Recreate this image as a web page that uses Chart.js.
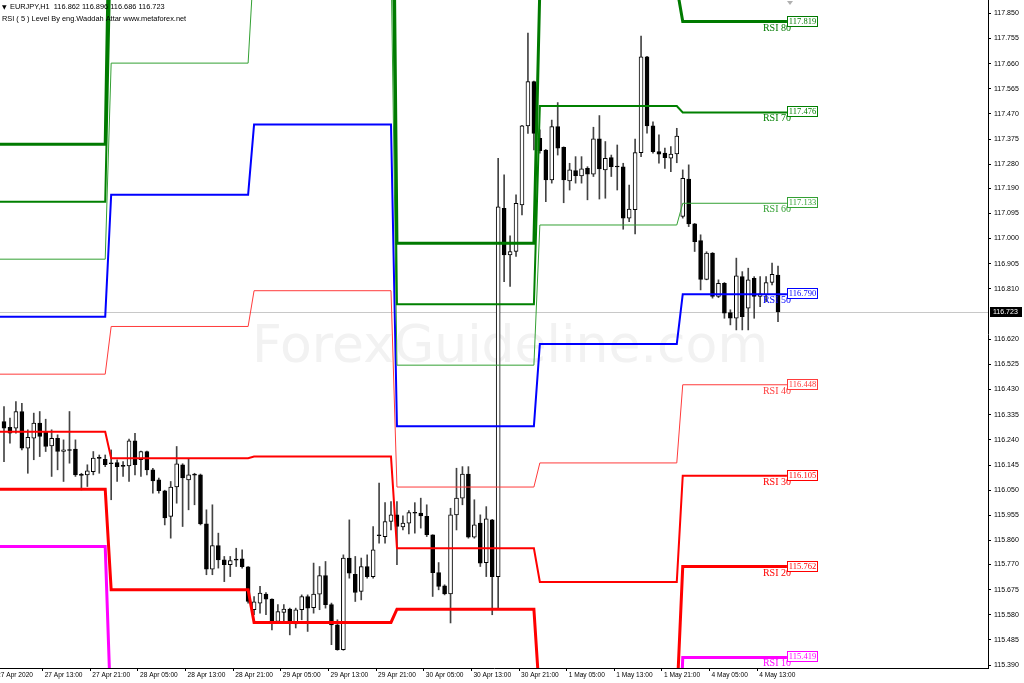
<!DOCTYPE html>
<html lang="en">
<head>
<meta charset="UTF-8">
<title>EURJPY,H1 - RSI Level</title>
<script src="https://cdn.jsdelivr.net/npm/chart.js"></script>
<style>
    body { margin: 0; padding: 0; background: #fff; }
    #wrap { width: 1024px; height: 683px; }
</style>
</head>
<body>
<div id="wrap"><canvas id="chart" width="1024" height="683"></canvas></div>
<script>
// H1 bars, bar 0 = 27 Apr 06:00
const opens = [
    116.309, 116.287, 116.284, 116.347, 116.209, 116.246, 116.303, 116.271, 116.217, 116.246,
    116.196, 116.202, 116.205, 116.108, 116.108, 116.120, 116.171, 116.167, 116.152, 116.154,
    116.142, 116.142, 116.236, 116.165, 116.196, 116.127, 116.089, 116.048, 115.951, 116.062,
    116.146, 116.089, 116.108, 116.108, 115.923, 115.752, 115.841, 115.787, 115.769, 115.787,
    115.791, 115.761, 115.599, 115.624, 115.658, 115.639, 115.555, 115.589, 115.601, 115.545,
    115.599, 115.649, 115.607, 115.658, 115.728, 115.618, 115.542, 115.448, 115.794, 115.733,
    115.668, 115.762, 115.724, 115.879, 115.875, 115.932, 115.957, 115.911, 115.926, 115.964,
    115.964, 115.951, 115.882, 115.739, 115.689, 115.659, 115.957, 116.020, 116.111, 115.873,
    115.926, 115.777, 115.938, 115.724, 117.114, 116.938, 116.951, 117.127, 117.425, 117.592,
    117.378, 117.334, 117.221, 117.422, 117.344, 117.217, 117.256, 117.236, 117.265, 117.243,
    117.376, 117.259, 117.305, 117.271, 117.271, 117.077, 117.109, 117.324, 117.686, 117.425,
    117.328, 117.322, 117.303, 117.319, 117.083, 117.224, 117.055, 116.992, 116.846, 116.945,
    116.781, 116.831, 116.720, 116.699, 116.856, 116.737, 116.850, 116.781, 116.787, 116.834,
    116.862
];
const highs = [
    116.366, 116.322, 116.385, 116.378, 116.278, 116.341, 116.347, 116.318, 116.278, 116.259,
    116.240, 116.347, 116.240, 116.114, 116.146, 116.196, 116.183, 116.183, 116.202, 116.165,
    116.158, 116.243, 116.265, 116.198, 116.198, 116.133, 116.096, 116.050, 116.083, 116.215,
    116.150, 116.168, 116.114, 116.111, 115.976, 115.995, 115.888, 115.800, 115.800, 115.831,
    115.825, 115.762, 115.649, 115.687, 115.664, 115.640, 115.618, 115.618, 115.605, 115.605,
    115.655, 115.655, 115.775, 115.762, 115.781, 115.624, 115.561, 115.806, 115.938, 115.800,
    115.794, 115.806, 115.913, 116.077, 116.003, 116.007, 116.007, 115.953, 115.973, 116.003,
    116.020, 115.995, 115.882, 115.777, 115.693, 115.982, 116.133, 116.139, 116.139, 116.014,
    115.957, 115.988, 115.940, 117.303, 117.240, 117.010, 117.165, 117.427, 117.775, 117.594,
    117.410, 117.336, 117.447, 117.513, 117.346, 117.284, 117.309, 117.309, 117.271, 117.420,
    117.464, 117.366, 117.315, 117.353, 117.284, 117.202, 117.375, 117.764, 117.688, 117.440,
    117.391, 117.341, 117.347, 117.416, 117.259, 117.278, 117.057, 117.014, 116.950, 116.947,
    116.844, 116.834, 116.731, 116.926, 116.875, 116.888, 116.856, 116.856, 116.856, 116.907,
    116.896
];
const lows = [
    116.158, 116.228, 116.265, 116.202, 116.114, 116.165, 116.177, 116.196, 116.102, 116.127,
    116.083, 116.152, 116.102, 116.051, 116.064, 116.108, 116.114, 116.139, 116.014, 116.083,
    116.102, 116.083, 116.108, 116.102, 116.108, 116.039, 116.039, 115.919, 115.869, 116.001,
    115.913, 115.976, 115.995, 115.919, 115.731, 115.731, 115.756, 115.705, 115.724, 115.762,
    115.756, 115.624, 115.580, 115.586, 115.580, 115.523, 115.549, 115.555, 115.504, 115.530,
    115.561, 115.517, 115.586, 115.599, 115.605, 115.467, 115.446, 115.446, 115.718, 115.630,
    115.636, 115.718, 115.718, 115.850, 115.850, 115.900, 115.769, 115.900, 115.885, 115.888,
    115.907, 115.875, 115.649, 115.674, 115.655, 115.549, 115.900, 115.995, 115.869, 115.869,
    115.762, 115.724, 115.580, 115.599, 116.837, 116.819, 116.932, 117.089, 117.397, 117.334,
    117.322, 117.139, 117.209, 117.315, 117.135, 117.183, 117.209, 117.209, 117.146, 117.234,
    117.149, 117.152, 117.234, 117.183, 117.035, 117.064, 117.017, 117.309, 117.398, 117.322,
    117.284, 117.265, 117.252, 117.286, 117.077, 117.045, 116.951, 116.806, 116.844, 116.775,
    116.777, 116.699, 116.674, 116.655, 116.655, 116.655, 116.699, 116.743, 116.762, 116.825,
    116.686
];
const closes = [
    116.284, 116.265, 116.347, 116.209, 116.250, 116.303, 116.253, 116.215, 116.246, 116.196,
    116.202, 116.200, 116.108, 116.106, 116.123, 116.171, 116.170, 116.146, 116.150, 116.139,
    116.140, 116.236, 116.146, 116.196, 116.127, 116.085, 116.048, 115.945, 116.062, 116.150,
    116.096, 116.108, 116.107, 115.923, 115.752, 115.841, 115.787, 115.769, 115.784, 115.786,
    115.761, 115.630, 115.629, 115.662, 115.639, 115.555, 115.592, 115.601, 115.546, 115.599,
    115.649, 115.605, 115.658, 115.728, 115.618, 115.542, 115.448, 115.794, 115.737, 115.664,
    115.762, 115.724, 115.825, 115.878, 115.932, 115.957, 115.913, 115.926, 115.966, 115.963,
    115.953, 115.882, 115.739, 115.687, 115.659, 115.957, 116.020, 116.111, 115.873, 115.919,
    115.775, 115.942, 115.724, 117.120, 116.938, 116.951, 117.133, 117.425, 117.592, 117.397,
    117.332, 117.221, 117.422, 117.341, 117.221, 117.259, 117.237, 117.263, 117.243, 117.376,
    117.263, 117.303, 117.271, 117.270, 117.077, 117.111, 117.324, 117.686, 117.425, 117.328,
    117.318, 117.305, 117.319, 117.387, 117.227, 117.055, 116.988, 116.846, 116.945, 116.781,
    116.831, 116.718, 116.699, 116.859, 116.705, 116.844, 116.781, 116.791, 116.834, 116.865,
    116.723
];

// time axis labels and the bar they belong to
const timeLabels = ['27 Apr 2020', '27 Apr 13:00', '27 Apr 21:00', '28 Apr 05:00', '28 Apr 13:00',
    '28 Apr 21:00', '29 Apr 05:00', '29 Apr 13:00', '29 Apr 21:00', '30 Apr 05:00', '30 Apr 13:00',
    '30 Apr 21:00', '1 May 05:00', '1 May 13:00', '1 May 21:00', '4 May 05:00', '4 May 13:00'];
const timeBars = [-1, 7, 15, 23, 31, 39, 47, 55, 63, 71, 79, 87, 95, 103, 111, 119, 127];

const priceLabels = ['117.850', '117.755', '117.660', '117.565', '117.470', '117.375', '117.280',
    '117.190', '117.095', '117.000', '116.905', '116.810', '116.620', '116.525', '116.430',
    '116.335', '116.240', '116.145', '116.050', '115.955', '115.860', '115.770', '115.675',
    '115.580', '115.485', '115.390'];

// daily levels: first and last bar of each day
const dayFirstBar = [-1, 18, 42, 66, 90, 114];
const dayLastBar = [17, 41, 65, 89, 113, 131.5];

const rsi80 = [117.356, 118.656, 119.309, 116.982, 117.949, 117.819];
const rsi70 = [117.139, 118.159, 118.682, 116.752, 117.500, 117.476];
const rsi60 = [116.922, 117.662, 118.056, 116.522, 117.051, 117.133];
const rsi50 = [116.705, 117.165, 117.430, 116.291, 116.602, 116.790];
const rsi40 = [116.488, 116.668, 116.803, 116.062, 116.153, 116.448];
const rsi30 = [116.271, 116.171, 116.177, 115.831, 115.704, 116.105];
const rsi20 = [116.054, 115.674, 115.551, 115.601, 115.255, 115.762];
const rsi10 = [115.838, 115.177, 114.925, 115.371, 114.806, 115.419];

const levels = [
    { name: 'RSI 80', values: rsi80, color: '#007a00', width: 3 },
    { name: 'RSI 70', values: rsi70, color: '#008000', width: 2 },
    { name: 'RSI 60', values: rsi60, color: '#33a033', width: 1 },
    { name: 'RSI 50', values: rsi50, color: '#0000ff', width: 2 },
    { name: 'RSI 40', values: rsi40, color: '#ff3b3b', width: 1 },
    { name: 'RSI 30', values: rsi30, color: '#ff0000', width: 2 },
    { name: 'RSI 20', values: rsi20, color: '#ff0000', width: 3 },
    { name: 'RSI 10', values: rsi10, color: '#ff00ff', width: 3 }
];

const lastClose = closes[closes.length - 1];

const wickData = highs.map((h, i) => ({ x: i, y: [lows[i], h] }));
const bodyData = opens.map((o, i) => ({ x: i, y: [o, closes[i]] }));

const lineSets = levels.map(l => ({
    type: 'line',
    label: l.name,
    data: dayFirstBar.flatMap((b, d) => [{ x: b, y: l.values[d] }, { x: dayLastBar[d], y: l.values[d] }]),
    borderColor: l.color,
    borderWidth: l.width,
    pointRadius: 0,
    fill: false,
    tension: 0,
    clip: 0,
    order: 0
}));

const overlay = {
    id: 'overlay',
    beforeDatasetsDraw(chart) {
        const { ctx, chartArea: a, scales: { y } } = chart;
        ctx.save();
        ctx.font = '52px "DejaVu Sans"';
        ctx.fillStyle = '#f2f2f2';
        ctx.textAlign = 'center';
        ctx.textBaseline = 'alphabetic';
        ctx.fillText('ForexGuideline.com', 510, 362);
        // current price line
        const py = Math.round(y.getPixelForValue(lastClose)) + 0.5;
        ctx.strokeStyle = '#c8c8c8';
        ctx.lineWidth = 1;
        ctx.beginPath();
        ctx.moveTo(a.left, py);
        ctx.lineTo(a.right, py);
        ctx.stroke();
        ctx.restore();
    },
    afterDatasetsDraw(chart) {
        const { ctx, scales: { x, y } } = chart;
        const x0 = Math.round(x.getPixelForValue(dayLastBar[5]));
        ctx.save();
        levels.forEach(l => {
            const v = l.values[5];
            const ly = Math.round(y.getPixelForValue(v));
            ctx.fillStyle = l.color;
            ctx.font = '10px "Liberation Serif"';
            ctx.textAlign = 'right';
            ctx.textBaseline = 'top';
            ctx.fillText(l.name, x0 + 4, ly + 1);
            ctx.fillStyle = '#fff';
            ctx.fillRect(x0, ly - 5, 30, 10);
            ctx.strokeStyle = l.color;
            ctx.lineWidth = 1;
            ctx.strokeRect(x0 + 0.5, ly - 5.5, 30, 10);
            ctx.fillStyle = l.color;
            ctx.font = '8.5px "Liberation Serif"';
            ctx.textAlign = 'center';
            ctx.textBaseline = 'middle';
            ctx.fillText(v.toFixed(3), x0 + 15.5, ly);
        });
        // small marker at the top of the chart
        ctx.fillStyle = '#b0b0b0';
        ctx.beginPath();
        ctx.moveTo(787, 1);
        ctx.lineTo(793, 1);
        ctx.lineTo(790, 5);
        ctx.closePath();
        ctx.fill();
        ctx.restore();
    },
    afterDraw(chart) {
        const { ctx, chartArea: a, scales: { y } } = chart;
        ctx.save();
        // current price tag
        const py = Math.round(y.getPixelForValue(lastClose));
        ctx.fillStyle = '#000';
        ctx.fillRect(a.right + 2, py - 5, 32, 10);
        ctx.fillStyle = '#fff';
        ctx.font = '7px "Liberation Sans"';
        ctx.textAlign = 'left';
        ctx.textBaseline = 'middle';
        ctx.fillText(lastClose.toFixed(3), a.right + 5, py);
        // titles
        ctx.fillStyle = '#000';
        ctx.font = '6px "DejaVu Sans"';
        ctx.fillText('\u25BC', 2, 7);
        ctx.font = '7.4px "Liberation Sans"';
        ctx.fillText('EURJPY,H1  ' + [opens, highs, lows, closes].map(s => s[s.length - 1].toFixed(3)).join(' '), 10, 7);
        ctx.fillText('RSI ( 5 ) Level By eng.Waddah Attar www.metaforex.net', 2, 19);
        ctx.restore();
    }
};

new Chart(document.getElementById('chart'), {
    data: {
        datasets: [
            ...lineSets,
            {
                type: 'bar',
                label: 'body',
                data: bodyData,
                barThickness: 4,
                grouped: false,
                minBarLength: 1,
                borderWidth: 1,
                borderColor: '#000',
                borderSkipped: false,
                backgroundColor: c => (closes[c.dataIndex] > opens[c.dataIndex] + 0.004 ? '#fff' : '#000'),
                order: 1
            },
            {
                type: 'bar',
                label: 'wick',
                data: wickData,
                barThickness: 1,
                grouped: false,
                backgroundColor: '#444',
                borderWidth: 0,
                order: 2
            }
        ]
    },
    options: {
        responsive: false,
        animation: false,
        events: [],
        layout: { padding: 0, autoPadding: false },
        plugins: { legend: { display: false }, tooltip: { enabled: false } },
        scales: {
            x: {
                type: 'linear',
                position: 'bottom',
                min: -0.672,
                max: 165.27,
                offset: false,
                grid: { display: true, drawOnChartArea: false, drawTicks: true, tickLength: 3, color: '#000', offset: false },
                border: { display: true, color: '#000', width: 1 },
                ticks: {
                    autoSkip: false,
                    maxRotation: 0,
                    minRotation: 0,
                    align: 'start',
                    labelOffset: 2,
                    padding: 0,
                    color: '#000',
                    font: { family: 'Liberation Sans', size: 6.6 },
                    callback: (v, i) => timeLabels[i]
                },
                afterBuildTicks: s => { s.ticks = timeBars.map(b => ({ value: b - 0.5 })); },
                afterFit: s => { s.height = 15; s.paddingLeft = 0; s.paddingRight = 0; }
            },
            y: {
                type: 'linear',
                position: 'right',
                min: 115.379,
                max: 117.9002,
                grid: { display: true, drawOnChartArea: false, drawTicks: true, tickLength: 3, color: '#000' },
                border: { display: true, color: '#000', width: 1 },
                ticks: {
                    autoSkip: false,
                    padding: 3,
                    color: '#000',
                    crossAlign: 'near',
                    font: { family: 'Liberation Sans', size: 7 },
                    callback: (v, i) => priceLabels[i]
                },
                afterBuildTicks: s => { s.ticks = priceLabels.map(p => ({ value: parseFloat(p) })); },
                afterFit: s => { s.width = 36; s.paddingTop = 0; s.paddingBottom = 0; }
            }
        }
    },
    plugins: [overlay]
});
</script>
</body>
</html>
